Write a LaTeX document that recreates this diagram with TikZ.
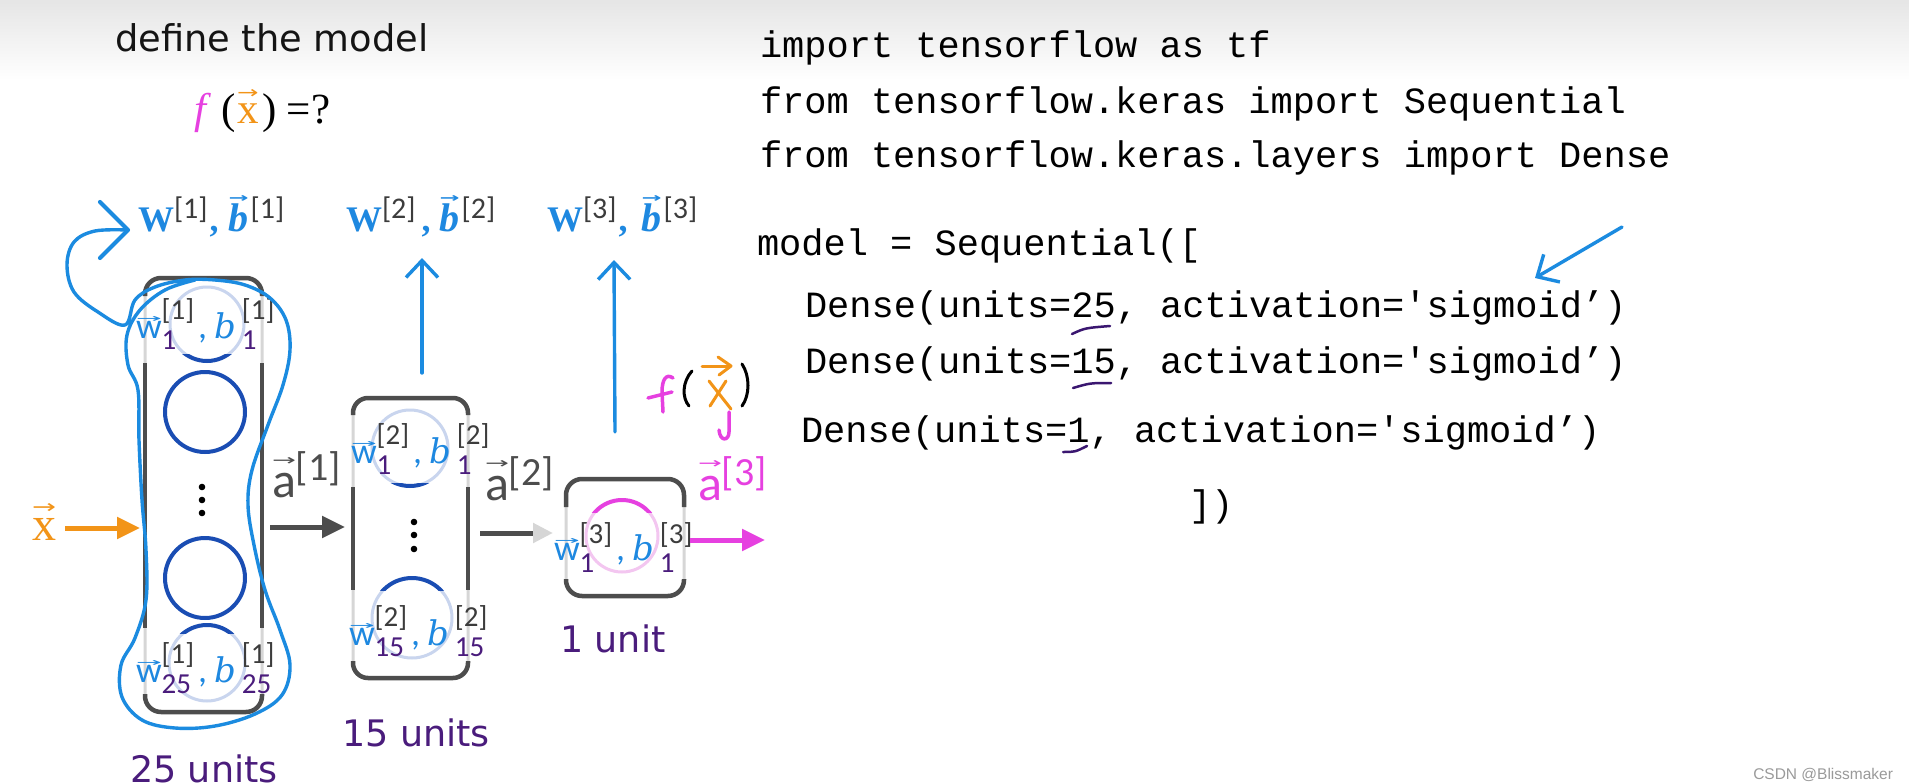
\documentclass[tikz,border=0pt]{standalone}
\usepackage{fontspec}
\usepackage{graphicx}
\usetikzlibrary{arrows.meta}
\setmainfont{DejaVu Sans}
\newfontfamily\dv{DejaVu Sans}
\newfontfamily\calf{Carlito}
\newfontfamily\lser{Liberation Serif}
\newfontfamily\dser{DejaVu Serif}
\newfontfamily\mono{Liberation Mono}
\newfontfamily\lsans{Liberation Sans}
\definecolor{blu}{HTML}{1E88E0}
\definecolor{hand}{HTML}{1B8BE0}
\definecolor{nblue}{HTML}{1A4DB3}
\definecolor{fade}{HTML}{C9D5EE}
\definecolor{purp}{HTML}{4A1C7C}
\definecolor{brk}{HTML}{3C3C3C}
\definecolor{dgray}{HTML}{4D4D4D}
\definecolor{lgray}{HTML}{D6D6D6}
\definecolor{orng}{HTML}{F29418}
\definecolor{mag}{HTML}{E640E0}
\definecolor{pinkf}{HTML}{F3C6F0}
\definecolor{ulc}{HTML}{3A1670}
\definecolor{wmk}{HTML}{9A9A9A}
\newcommand\fs[1]{\fontsize{#1}{#1}\selectfont}
\newsavebox\vbx
\newcommand\varr[3]{\sbox\vbx{#3}\rlap{\raisebox{#1}{\resizebox{\wd\vbx}{#2}{\dv →}}}\usebox\vbx}
\newcommand\ssub[4]{\rlap{\raisebox{-#4}{\color{purp}#2}}\raisebox{#3}{\color{brk}#1}}
\newcommand\nlab[4]{%
{\calf\fs{36}\color{blu}\varr{16pt}{6pt}{w}}%
{\calf\fs{29}\ssub{[#1]}{#2}{#3}{#4}}%
\hspace{4pt}{\calf\fs{36}\color{blu},}\hspace{7pt}%
{\dser\itshape\fs{34}\color{blu}b}\hspace{6pt}%
{\calf\fs{29}\ssub{[#1]}{#2}{#3}{#4}}}
\newcommand\Wlab[3]{%
{\lser\bfseries\fs{36}\color{blu}W}%
{\calf\fs{30}\color{brk}\raisebox{13pt}{[#1]}}%
\hspace{#2}{\lser\bfseries\fs{36}\color{blu},}\hspace{#3}%
{\lser\bfseries\itshape\fs{40}\color{blu}\varr{29pt}{7pt}{b}}\hspace{2pt}%
{\calf\fs{30}\color{brk}\raisebox{13pt}{[#1]}}}
\newcommand\alab[2]{{\calf\fs{50}\varr{32pt}{8pt}{a}}{\calf\fs{40}\raisebox{#2}{[#1]}}}
\begin{document}
\begin{tikzpicture}[x=1pt,y=-1pt,
  every node/.style={inner sep=0pt,outer sep=0pt,anchor=base west},
  lbox/.style={draw=lgray,line width=3pt},
  dcap/.style={draw=dgray,line width=4.5pt},
  fadec/.style={draw=fade,line width=3pt},
  neuron/.style={draw=nblue,line width=4pt},
  fat/.style={line width=5pt,-{Triangle[length=23pt,width=21pt]}},
  handl/.style={draw=hand,line width=3.4pt,line cap=round,line join=round},
  handup/.style={handl,-{Straight Barb[length=17pt,width=32pt]}},
  code/.style={font=\mono\fs{37},text=black},
  unitlab/.style={font=\dv\fs{36.5},text=purp},
  pen/.style={line width=3pt,line cap=round,line join=round}]
\useasboundingbox (0,0) rectangle (1909,784);
\fill[white] (0,0) rectangle (1909,784);
\shade[top color=black!10,bottom color=white] (0,0) rectangle (1909,80);

% title and f(x)
\node[font=\dv\fs{36.8},text=black!92] (title) at (115,52) {define the model};
\node[font=\lser\fs{43}] (fx) at (194,123) {\makebox[27pt][l]{\color{mag}\itshape f}\makebox[16pt][l]{(}\makebox[25pt][l]{\color{orng}\varr{25pt}{9pt}{x}}\makebox[25pt][l]{)}=?};

% W labels
\node (W1) at (138,231) {\Wlab{1}{2pt}{10pt}};
\node (W2) at (346,231) {\Wlab{2}{6pt}{9pt}};
\node (W3) at (547,231) {\Wlab{3}{2pt}{14pt}};

% layer 1 box
\draw[lbox,rounded corners=16pt] (145,278) rectangle (262,712);
\draw[fadec] (207,324) circle[radius=37];
\draw[fadec] (207,663) circle[radius=38];
\begin{scope}\clip (150,354) rectangle (260,368);\draw[neuron] (207,324) circle[radius=37];\end{scope}
\begin{scope}\clip (150,620) rectangle (260,633);\draw[neuron] (207,663) circle[radius=38];\end{scope}
\draw[neuron] (205,412) circle[radius=40];
\draw[neuron] (205,578) circle[radius=40];
\foreach \yy in {487,500,513} \fill[black] (202,\yy) circle[radius=3.3];
\draw[dcap,rounded corners=16pt] (145,296) |- (203,278) -| (262,296);
\draw[dcap,rounded corners=16pt] (145,694) |- (203,712) -| (262,694);
\draw[dcap] (145,363) -- (145,628);
\draw[dcap] (262,363) -- (262,628);
\node (n11) at (136,338) {\nlab{1}{1}{19pt}{11pt}};
\node (n125) at (136,682) {\nlab{1}{25}{19pt}{11pt}};
\node[unitlab] (u25) at (130,782) {25 units};

% layer 2 box
\draw[lbox,rounded corners=15pt] (353,398) rectangle (468,678);
\draw[fadec] (410,448) circle[radius=38];
\draw[fadec] (412,618) circle[radius=40];
\begin{scope}\clip (360,483) rectangle (460,492);\draw[neuron] (410,448) circle[radius=38];\end{scope}
\begin{scope}\clip (360,575) rectangle (460,590);\draw[neuron] (412,618) circle[radius=40];\end{scope}
\foreach \yy in {522,535,549} \fill[black] (414,\yy) circle[radius=3.3];
\draw[dcap,rounded corners=15pt] (353,415) |- (410,398) -| (468,415);
\draw[dcap,rounded corners=15pt] (353,661) |- (410,678) -| (468,661);
\draw[dcap] (353,487) -- (353,590);
\draw[dcap] (468,487) -- (468,590);
\node (n21) at (351,463) {\nlab{2}{1}{19pt}{11pt}};
\node (n215) at (349,645) {\nlab{2}{15}{19pt}{11pt}};
\node[unitlab] (u15) at (342,746) {15 units};

% layer 3 box
\draw[lbox,rounded corners=16pt] (566,479) rectangle (684,596);
\draw[draw=pinkf,line width=3pt] (622,536) circle[radius=36];
\begin{scope}\clip (580,496) rectangle (670,512);\draw[draw=mag,line width=4pt] (622,536) circle[radius=36];\end{scope}
\draw[dcap,rounded corners=16pt] (566,507) |- (625,479) -| (684,507);
\draw[dcap,rounded corners=16pt] (566,579) |- (625,596) -| (684,579);
\node (n31) at (554,560) {\nlab{3}{1}{17pt}{12pt}};
\node[unitlab] (u1) at (560,652) {1 unit};

% input / activations
\node[font=\lser\fs{48},text=orng] (xin) at (32,540) {\varr{27pt}{10pt}{x}};
\coordinate (xs) at (65,528); \coordinate (xe) at (140,528);
\draw[fat,orng] (xs) -- (xe);
\node[text=dgray] (a1) at (272,497) {\alab{1}{17pt}};
\coordinate (a1s) at (270,527); \coordinate (a1e) at (345,527);
\draw[fat,dgray] (a1s) -- (a1e);
\node[text=dgray] (a2) at (485,500) {\alab{2}{15pt}};
\coordinate (a2s) at (480,533); \coordinate (a2e) at (553,533);
\draw[dgray,line width=5pt,-{Triangle[length=20pt,width=19pt,color=lgray]}] (a2s) -- (a2e);
\node[text=mag] (a3) at (698,500) {\alab{3}{15pt}};
\coordinate (a3s) at (690,540); \coordinate (a3e) at (765,540);
\draw[fat,mag] (a3s) -- (a3e);

% blue hand-drawn arrows up
\coordinate (u2s) at (422,373); \coordinate (u2e) at (422,258);
\coordinate (u3s) at (615,432); \coordinate (u3e) at (614,260);
\draw[handup] (u2s) -- (u2e);
\draw[handup] (u3s) -- (u3e);

% handwritten f(x)
\draw[pen,mag,line width=3.5pt] (673,378) .. controls (666,373) and (662,380) .. (662,392) -- (663,412);
\draw[pen,mag,line width=3.5pt] (648,398) -- (672,392);
\draw[pen,black] (692,371) .. controls (682,382) and (682,398) .. (689,406);
\draw[pen,orng] (709,381) -- (731,409);
\draw[pen,orng] (726,381) -- (710,406);
\draw[pen,orng] (702,366) -- (730,366);
\draw[pen,orng] (718,357) -- (731,366) -- (719,375);
\draw[pen,black] (742,364) .. controls (750,376) and (750,395) .. (742,406);
\draw[pen,mag,line width=3.5pt] (729,412) -- (729,432) .. controls (729,441) and (720,442) .. (719,430);

% loop around layer 1
\draw[handl,line width=4.2pt] (100,202) -- (128,230) -- (100,258);
\draw[handl] plot[smooth,tension=0.6] coordinates {(128,230) (95,231) (74,242) (67,265) (74,292) (98,312) (125,325) (135,300) (155,287) (185,280) (215,280) (245,285) (270,298) (286,320) (290,350) (283,385) (268,425) (252,470) (248,505) (254,545) (265,590) (280,630) (290,665) (282,695) (255,714) (215,726) (175,728) (142,720) (122,697) (121,665) (135,638) (146,600) (146,550) (142,500) (139,440) (138,390) (128,365) (127,335) (140,310) (165,290) (195,280)};

% code
\node[code] (c1) at (760,58) {import tensorflow as tf};
\node[code] (c2) at (760,113) {from tensorflow.keras import Sequential};
\node[code] (c3) at (760,167) {from tensorflow.keras.layers import Dense};
\node[code] (c4) at (757,255) {model = Sequential([};
\node[code] (c5) at (805,317) {Dense(units=25, activation=\textquotesingle sigmoid’)};
\node[code] (c6) at (805,373) {Dense(units=15, activation=\textquotesingle sigmoid’)};
\node[code] (c7) at (801,442) {Dense(units=1, activation=\textquotesingle sigmoid’)};
\node[code] (c8) at (1189,516) {])};
\coordinate (cas) at (1622,227); \coordinate (cae) at (1535,278);
\draw[handl,-{Straight Barb[length=17pt,width=32pt]}] (cas) -- (cae);
\draw[pen,ulc,line width=2.5pt] (1072,334) .. controls (1085,328) .. (1110,326);
\draw[pen,ulc,line width=2.5pt] (1073,388) .. controls (1090,383) .. (1111,383);
\draw[pen,ulc,line width=2.5pt] (1063,452) .. controls (1075,452) .. (1087,446);

% watermark
\node[font=\lsans\fs{15.5},text=wmk,anchor=base east] (wm) at (1893,779) {CSDN @Blissmaker};
\end{tikzpicture}
\end{document}
